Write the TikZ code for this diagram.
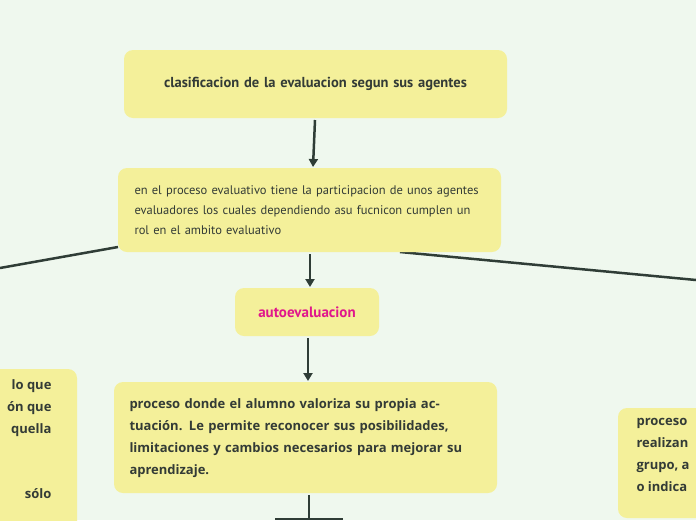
\documentclass[tikz,border=0pt]{standalone}
\usepackage{fontspec}
\setmainfont{Open Sans}
\newfontfamily\ptsans{PT Sans}
\usetikzlibrary{arrows.meta}
\definecolor{bg}{HTML}{EFF8EE}
\definecolor{boxc}{HTML}{F4F09A}
\definecolor{txt}{HTML}{333B36}
\definecolor{ln}{HTML}{2F3D36}
\definecolor{mag}{HTML}{E0168C}
\tikzset{box/.style={fill=boxc,rounded corners=9pt,draw=none},
lk/.style={draw=ln,line width=2.5pt},
ar/.style={lk,-{Triangle[length=8pt,width=9pt]}}}
\begin{document}
\begin{tikzpicture}[x=1pt,y=-1pt]
\fill[bg] (0,0) rectangle (696,520);
\useasboundingbox (0,0) rectangle (696,520);
\coordinate (l1) at (0,268);
\coordinate (r1) at (696,280);
\coordinate (b1) at (309,518);
\coordinate (bl) at (275,519);
\coordinate (br) at (343,519);
\draw[lk] (118,247) -- (l1);
\draw[lk] (400,252) -- (r1);
\fill[box] (124,50) rectangle (507,118);
\node (t) at (315.5,84) [align=center,text width=360pt,text=txt,font=\ptsans\bfseries\fontsize{14.5}{18}\selectfont] {clasificacion de la evaluacion segun sus agentes};
\fill[box] (118,168) rectangle (501,252);
\node (a) at (309.5,210) [align=left,text width=350pt,text=txt,font=\ptsans\fontsize{12.5}{20}\selectfont] {en el proceso evaluativo tiene la participacion de unos agentes evaluadores los cuales dependiendo asu fucnicon cumplen un rol en el ambito evaluativo};
\fill[box] (235,288) rectangle (379,336);
\node (au) at (307,312) [text=mag,font=\ptsans\bfseries\fontsize{15}{18}\selectfont] {autoevaluacion};
\fill[box] (114,382) rectangle (497,493);
\node (p) at (305.5,438) [align=left,text width=352pt,text=txt,font=\bfseries\fontsize{13}{22}\selectfont] {proceso donde el alumno valoriza su propia actuación. Le permite reconocer sus posibilidades, limitaciones y cambios necesarios para mejorar su aprendizaje.};
\fill[box] (-20,369) rectangle (77,530);
\node (lt) at (55,376) [anchor=north east,align=right,text=txt,font=\bfseries\fontsize{13}{22}\selectfont] {lo que\\ón que\\quella};
\node (lt2) at (55,494) [anchor=west,text=txt,font=\bfseries\fontsize{13}{22}\selectfont,anchor=east] {sólo};
\fill[box] (618,408) rectangle (720,518);
\node (rt) at (633,415) [anchor=north west,align=left,text=txt,font=\bfseries\fontsize{13}{22}\selectfont] {proceso\\realizan\\grupo, a\\o indica};
\draw[ar] (315,120) -- (313,167);
\draw[ar] (310,254) -- (310,287);
\draw[ar] (308,338) -- (308,381);
\draw[lk] (309,495) -- (b1);
\draw[lk] (bl) -- (br);
\end{tikzpicture}
\end{document}
